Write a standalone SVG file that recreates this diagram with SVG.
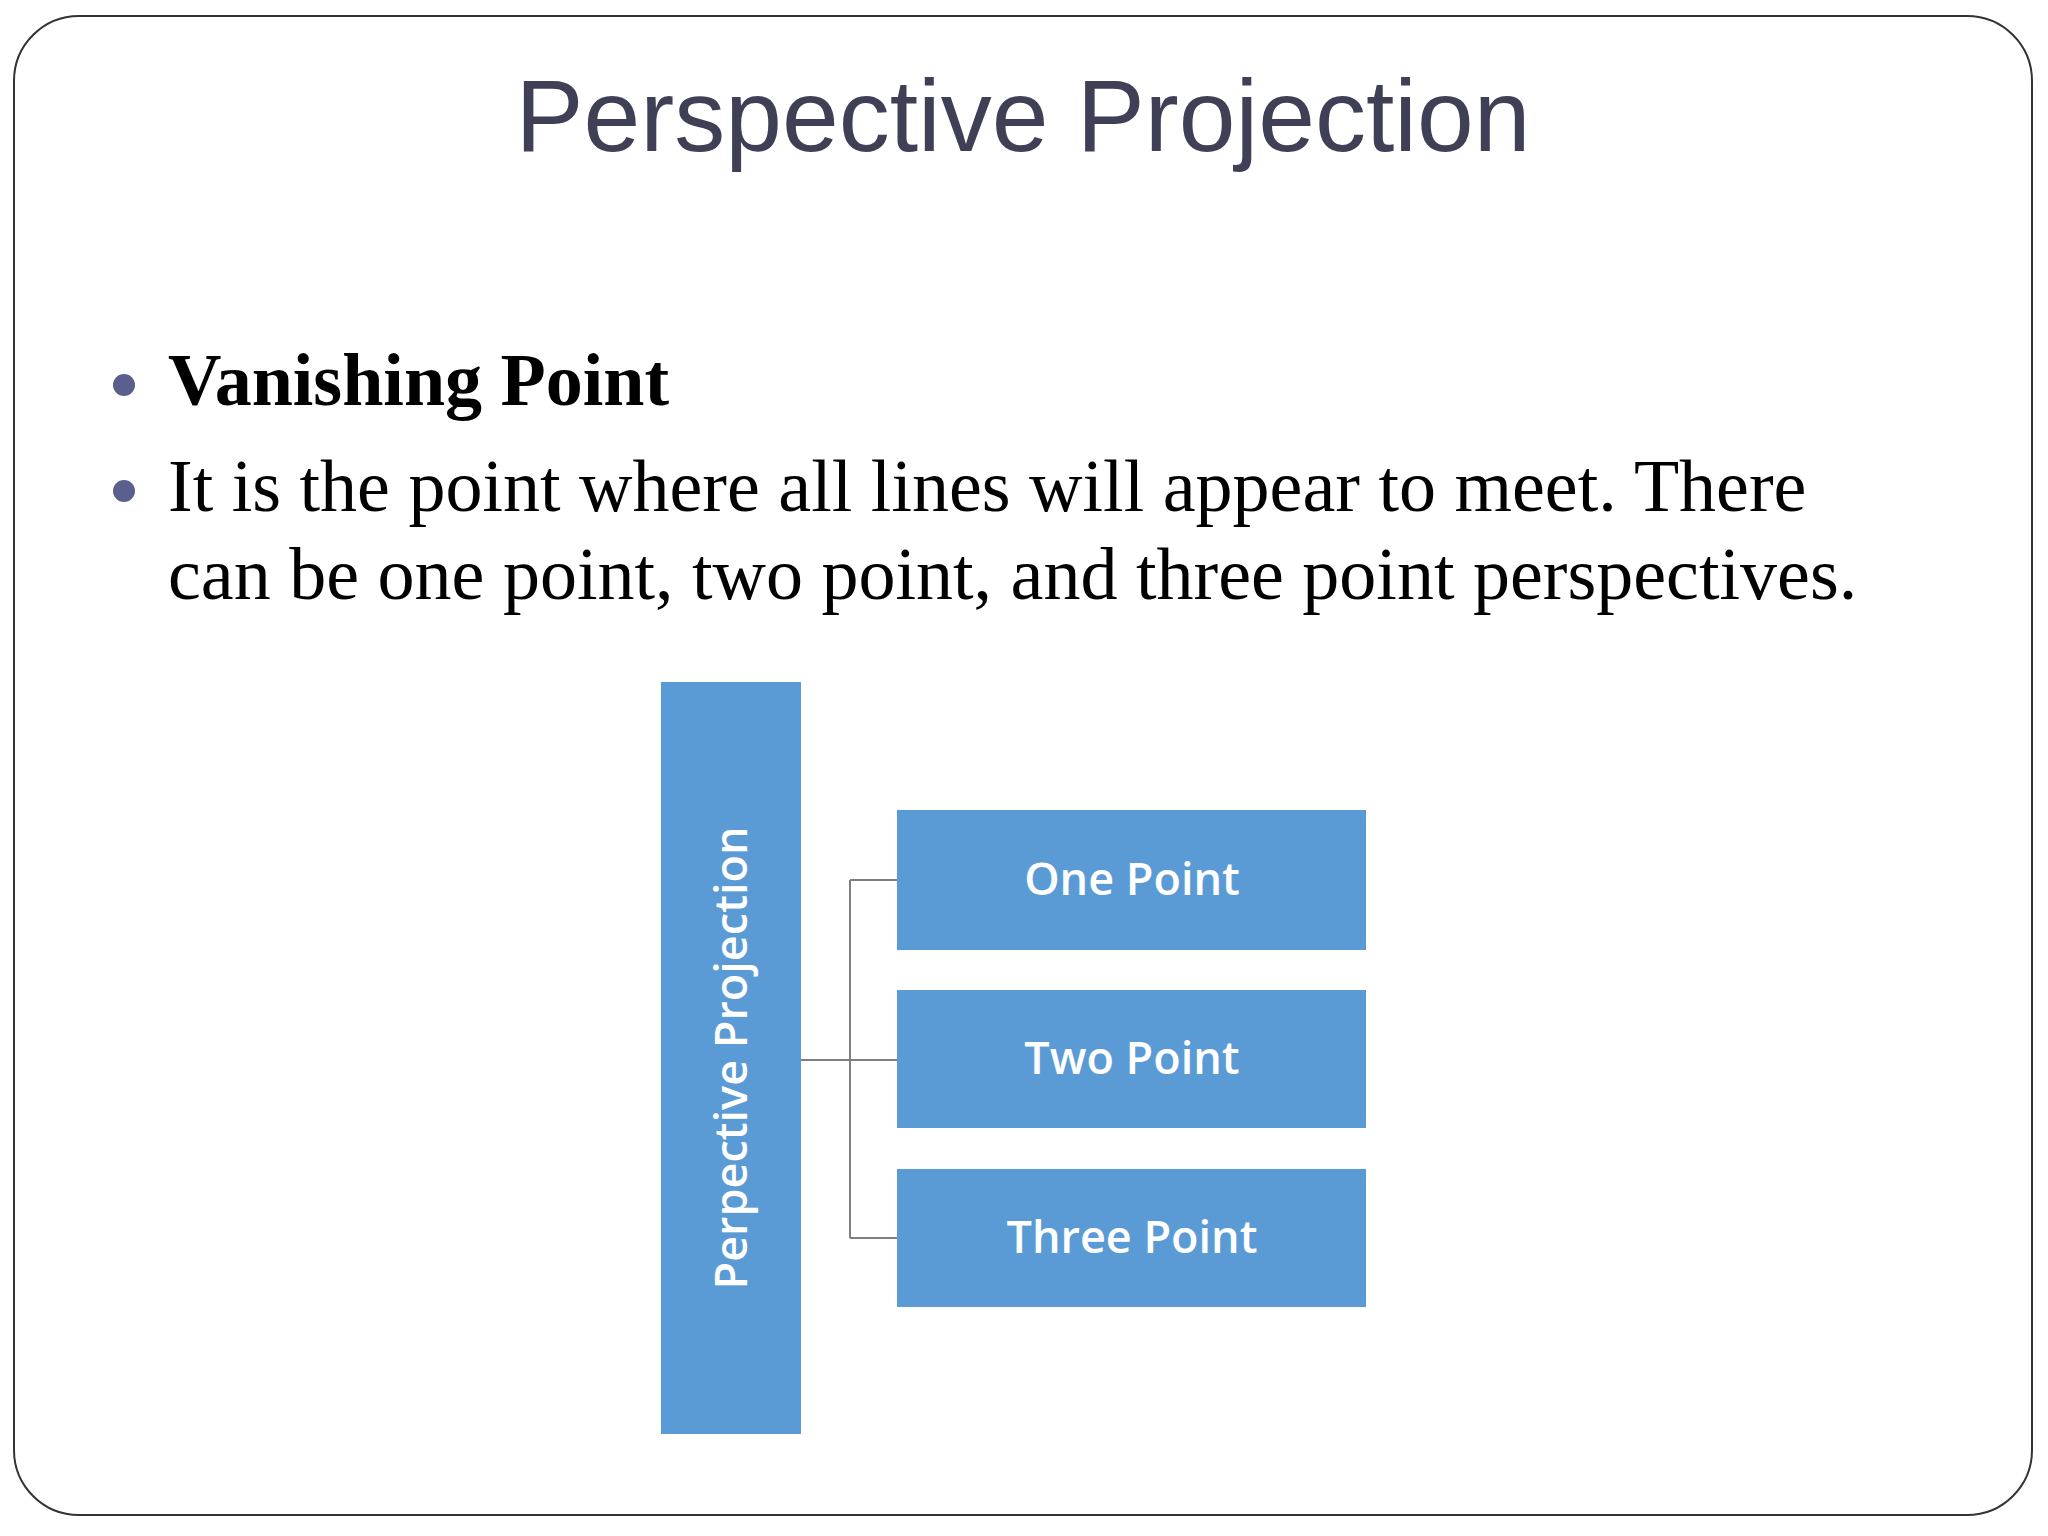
<svg xmlns="http://www.w3.org/2000/svg" width="2048" height="1536" viewBox="0 0 2048 1536">
<style>
.box{fill:#5b9bd5}
.bt{font-family:"Open Sans",sans-serif;font-size:45px;font-weight:600;fill:#fff;text-anchor:middle}
.body{font-family:"Liberation Serif",serif;font-size:74px;fill:#000}
.con{stroke:#7f7f7f;stroke-width:2;fill:none}
</style>
<rect x="0" y="0" width="2048" height="1536" fill="#fff"/>
<rect x="14" y="16" width="2018" height="1499" rx="65" fill="#fff" stroke="#333" stroke-width="2"/>
<text x="1023" y="151" font-family="Liberation Sans,sans-serif" font-size="102" fill="#3f3f56" text-anchor="middle">Perspective Projection</text>
<circle cx="124" cy="385" r="11" fill="#5a5f8e"/>
<circle cx="124" cy="491" r="11" fill="#5a5f8e"/>
<text class="body" x="168" y="405" font-weight="bold">Vanishing Point</text>
<text class="body" x="168" y="511">It is the point where all lines will appear to meet. There</text>
<text class="body" x="168" y="599">can be one point, two point, and three point perspectives.</text>
<g id="connectors">
<path class="con" d="M801 1060H897M850 880V1238M850 880H897M850 1238H897"/>
</g>
<g id="root"><rect class="box" x="661" y="682" width="140" height="752"/>
<text class="bt" transform="translate(747 1058) rotate(-90)">Perpective Projection</text></g>
<g id="one"><rect class="box" x="897" y="810" width="469" height="140"/><text class="bt" x="1132" y="895">One Point</text></g>
<g id="two"><rect class="box" x="897" y="990" width="469" height="138"/><text class="bt" x="1132" y="1074">Two Point</text></g>
<g id="three"><rect class="box" x="897" y="1169" width="469" height="138"/><text class="bt" x="1132" y="1253">Three Point</text></g>
</svg>
